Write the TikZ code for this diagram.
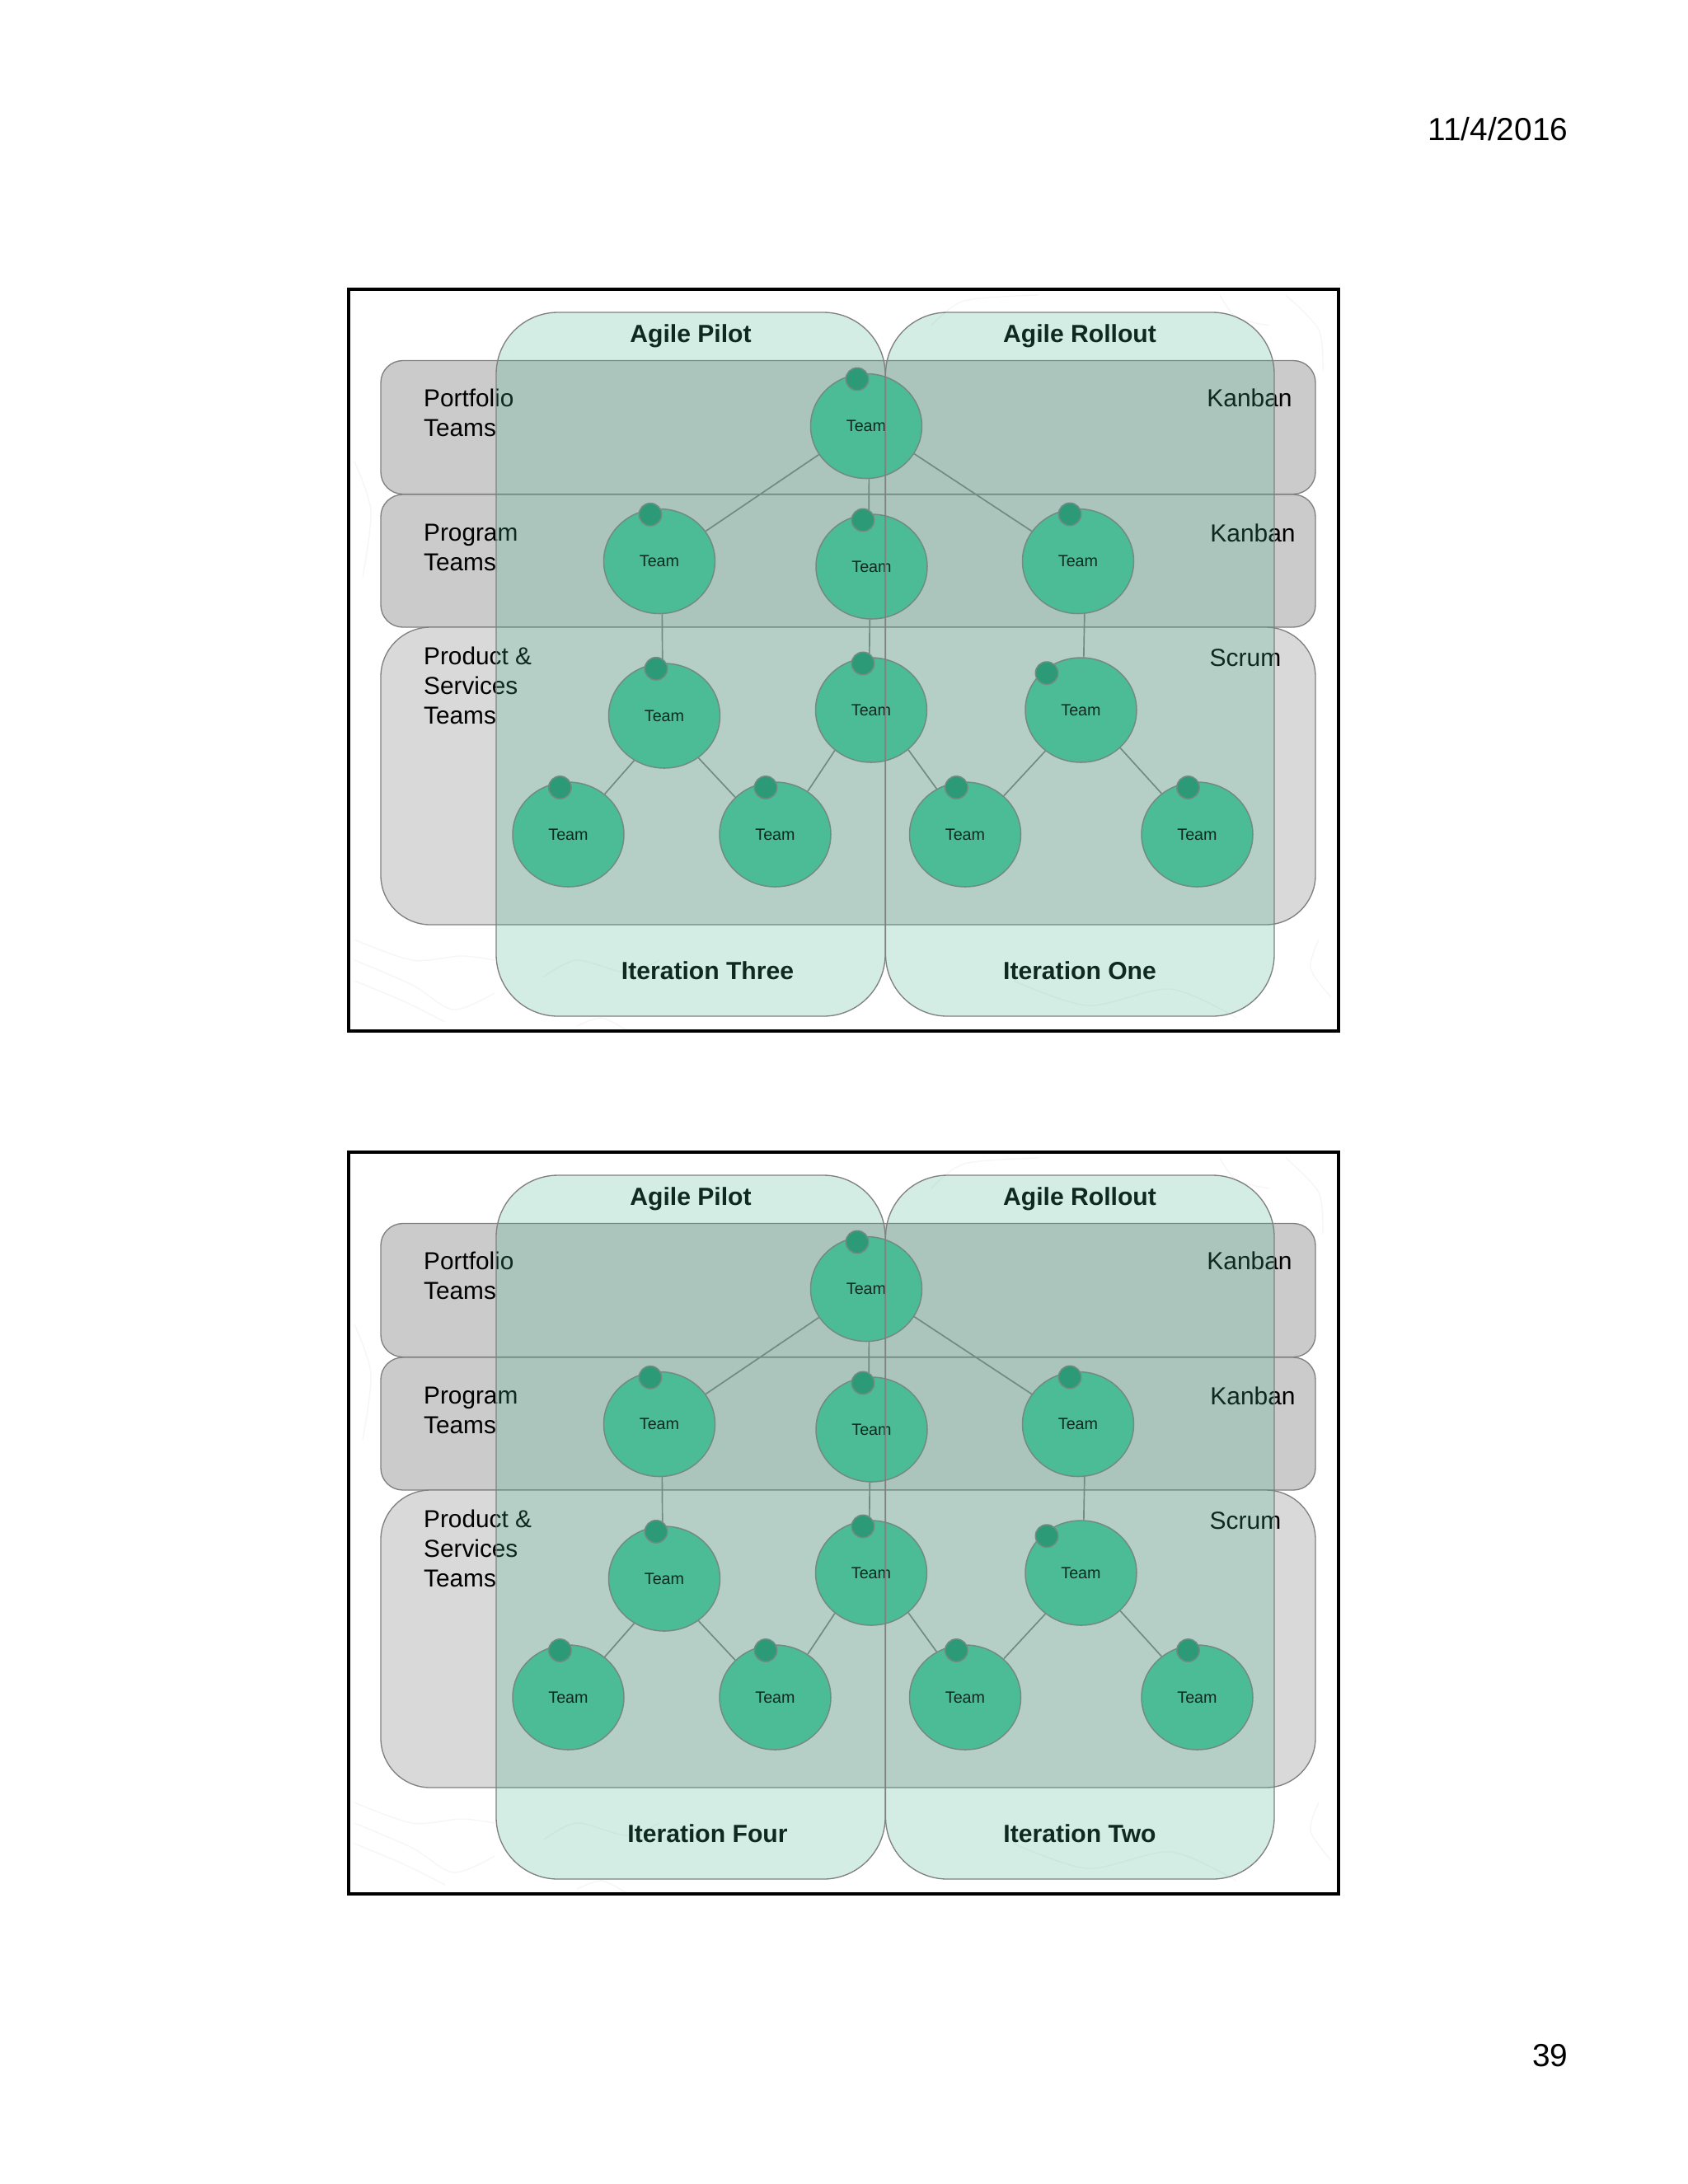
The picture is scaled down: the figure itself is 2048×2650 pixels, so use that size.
\documentclass[tikz,border=0pt]{standalone}
\usepackage{fontspec}
\setmainfont{Liberation Sans}
\usetikzlibrary{shapes.geometric}
\definecolor{panelfill}{HTML}{41B28B}
\definecolor{rowdark}{HTML}{CBCBCB}
\definecolor{rowlight}{HTML}{D9D9D9}
\definecolor{teamfill}{HTML}{4FC099}
\definecolor{dotfill}{HTML}{289472}
\definecolor{edgegrey}{HTML}{808080}
\definecolor{contour}{HTML}{F6F6F6}
\tikzset{
  px/.style={x=0.29883pt,y=-0.29883pt},
  frameline/.style={draw=black,line width=1.2pt},
  rowshape/.style={draw=edgegrey,line width=0.4pt},
  panelshape/.style={fill=panelfill,fill opacity=0.23,draw=edgegrey,line width=0.4pt,rounded corners=22.4pt},
  teamnode/.style={ellipse,draw=edgegrey,line width=0.45pt,fill=teamfill,minimum width=40.34pt,minimum height=37.95pt,inner sep=0pt,font=\fontsize{5.9}{7}\selectfont},
  dotnode/.style={circle,draw=edgegrey,line width=0.45pt,fill=dotfill,minimum size=8.2pt,inner sep=0pt},
  link/.style={draw=edgegrey,line width=0.5pt},
  contourline/.style={draw=contour,line width=0.4pt},
  rowlabel/.style={anchor=west,align=left,inner sep=0pt,font=\fontsize{8.9}{10.76}\selectfont},
  sidelabel/.style={anchor=center,inner sep=0pt,font=\fontsize{8.95}{10.76}\selectfont},
  boldlabel/.style={anchor=center,inner sep=0pt,font=\bfseries\fontsize{9.0}{10.8}\selectfont},
  pagelabel/.style={anchor=east,inner sep=0pt,font=\fontsize{11.6}{13.9}\selectfont},
}
\newcommand{\slidepanel}[4]{%
\begin{scope}[shift={(0,#1)}]
  \draw[contourline] plot[smooth] coordinates {(430,1140) (500,1165) (560,1160) (600,1165)};
  \draw[contourline] plot[smooth] coordinates {(430,1165) (500,1195) (550,1225) (600,1205)};
  \draw[contourline] plot[smooth] coordinates {(430,1190) (490,1215) (540,1240)};
  \draw[contourline] plot[smooth] coordinates {(660,1185) (700,1165) (760,1180) (800,1165)};
  \draw[contourline] plot[smooth] coordinates {(700,1245) (730,1235) (760,1250)};
  \draw[contourline] plot[smooth] coordinates {(1560,358) (1600,400) (1605,450)};
  \draw[contourline] plot[smooth] coordinates {(1480,358) (1500,385) (1540,395)};
  \draw[contourline] plot[smooth] coordinates {(1130,395) (1170,365) (1260,358)};
  \draw[contourline] plot[smooth] coordinates {(1600,1140) (1590,1175) (1615,1210)};
  \draw[contourline] plot[smooth] coordinates {(1230,1190) (1320,1220) (1420,1200) (1500,1235)};
  \draw[contourline] plot[smooth] coordinates {(430,560) (450,620) (440,700)};
  \draw[frameline] (423,351) rectangle (1624,1251);
  \draw[rowshape,fill=rowdark,rounded corners=8pt] (462,437.5) rectangle (1596,599.5);
  \draw[rowshape,fill=rowdark,rounded corners=8pt] (462,600) rectangle (1596,761);
  \draw[rowshape,fill=rowlight,rounded corners=18pt] (462,761) rectangle (1596,1122);
  \node[rowlabel] (#2lp) at (513.5,501) {Portfolio\\Teams};
  \node[rowlabel] (#2lq) at (513.5,664) {Program\\Teams};
  \node[rowlabel] (#2lr) at (513.5,832) {Product \&\\Services\\Teams};
  \node[sidelabel] (#2ka) at (1516,483) {Kanban};
  \node[sidelabel] (#2kb) at (1520,647) {Kanban};
  \node[sidelabel] (#2sc) at (1511,798) {Scrum};
  \node[teamnode] (#2top) at (1051,517) {Team};
  \node[teamnode] (#2pa) at (800,681) {Team};
  \node[teamnode] (#2pb) at (1057.5,687.5) {Team};
  \node[teamnode] (#2pc) at (1308,681) {Team};
  \node[teamnode] (#2ma) at (806,868.5) {Team};
  \node[teamnode] (#2mb) at (1057,861.5) {Team};
  \node[teamnode] (#2mc) at (1311.5,861.5) {Team};
  \node[teamnode] (#2ba) at (689.5,1012.5) {Team};
  \node[teamnode] (#2bb) at (940.5,1012.5) {Team};
  \node[teamnode] (#2bc) at (1171,1012.5) {Team};
  \node[teamnode] (#2bd) at (1452.5,1012.5) {Team};
  \draw[link] (#2top.-149) -- (#2pa.33);
  \draw[link] (#2top.-30) -- (#2pc.147);
  \draw[link] (#2top.-87) -- (#2pb.93);
  \draw[link] (#2pa.-87) -- (#2ma.92.5);
  \draw[link] (#2pb.-92.5) -- (#2mb.92.5);
  \draw[link] (#2pc.-83.8) -- (#2mc.87);
  \draw[link] (#2ma.-124) -- (#2ba.48);
  \draw[link] (#2ma.-51) -- (#2bb.137);
  \draw[link] (#2mb.-132) -- (#2bb.53);
  \draw[link] (#2mb.-47) -- (#2bc.122);
  \draw[link] (#2mc.-131) -- (#2bc.45);
  \draw[link] (#2mc.-44) -- (#2bd.131);
  \node[dotnode] (#2da) at (1040,460) {};
  \node[dotnode] (#2db) at (789,624.3) {};
  \node[dotnode] (#2dc) at (1047,631) {};
  \node[dotnode] (#2dd) at (1298,624) {};
  \node[dotnode] (#2de) at (796,811.4) {};
  \node[dotnode] (#2df) at (1047,805) {};
  \node[dotnode] (#2dg) at (1270,816.7) {};
  \node[dotnode] (#2dh) at (679.4,955.5) {};
  \node[dotnode] (#2di) at (929,955.5) {};
  \node[dotnode] (#2dj) at (1160.4,955.5) {};
  \node[dotnode] (#2dk) at (1441.5,955.5) {};
  \node[boldlabel] (#2ap) at (838,407.5) {Agile Pilot};
  \node[boldlabel] (#2ar) at (1310,407.5) {Agile Rollout};
  \node[boldlabel] (#2il) at (858.5,1178) {#3};
  \node[boldlabel] (#2ir) at (1310,1178) {#4};
  \draw[panelshape] (602,379) rectangle (1074,1233);
  \draw[panelshape] (1074.5,379) rectangle (1546,1233);
\end{scope}}
\begin{document}
\begin{tikzpicture}[px]
  \useasboundingbox (0,0) rectangle (2048,2650);
  \fill[white] (0,0) rectangle (2048,2650);
  \node[pagelabel] (date) at (1903,157) {11/4/2016};
  \node[pagelabel] (num) at (1903,2494) {39};
  \slidepanel{0}{u}{Iteration Three}{Iteration One}
  \slidepanel{1047}{v}{Iteration Four}{Iteration Two}
\end{tikzpicture}
\end{document}
